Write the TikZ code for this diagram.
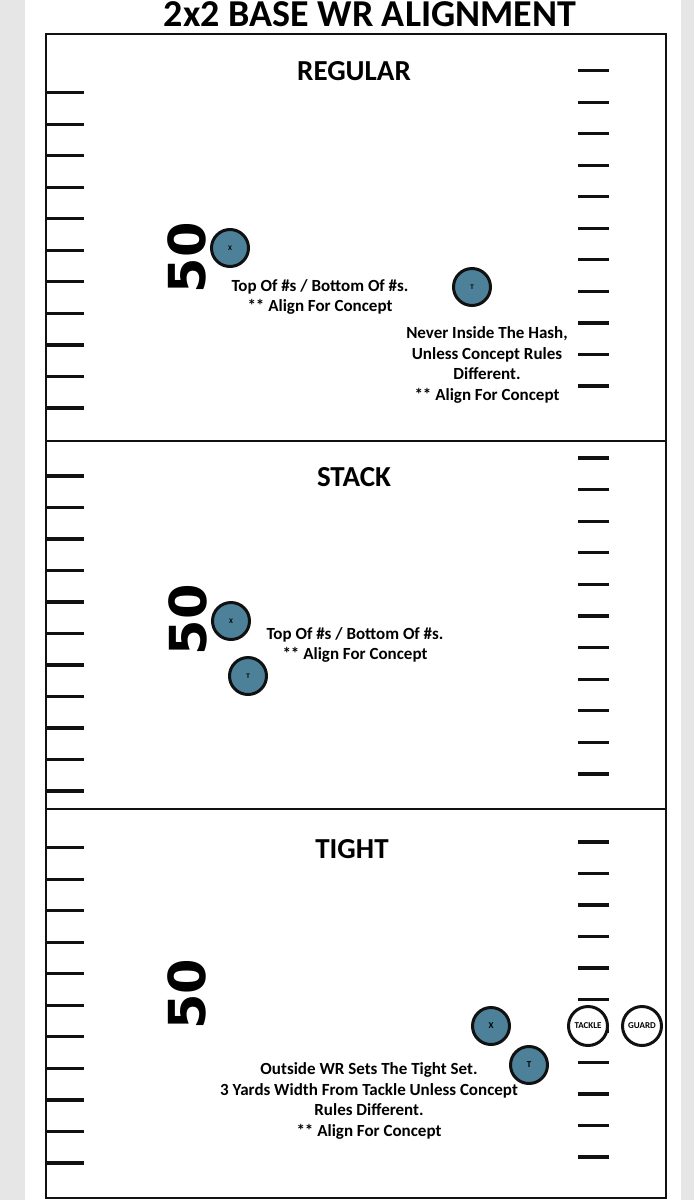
\documentclass[tikz,border=0pt]{standalone}
\usepackage{fontspec}
\setmainfont{Carlito}
\newfontfamily\numfont{DejaVu Sans}
\usepackage{tikz}
\usetikzlibrary{calc}
\definecolor{wr}{HTML}{4C8199}
\definecolor{pg}{HTML}{E6E6E6}
\definecolor{ink}{HTML}{111111}

\begin{document}
\begin{tikzpicture}[x=1pt,y=-1pt,  % 1 unit = 1 px of the sheet, y runs down
  hash/.style={ink,line width=3.2pt},
  wrdot/.style={circle,draw=ink,line width=3pt,fill=wr,minimum size=37pt,inner sep=0pt,font=\fontsize{7}{7}\selectfont\bfseries},
  oline/.style={wrdot,fill=white,minimum size=39pt,font=\fontsize{9}{9}\selectfont\bfseries},
  head/.style={inner sep=0pt,font=\fontsize{29}{29}\selectfont\bfseries},
  note/.style={align=center,inner sep=0pt,font=\fontsize{17}{20.7}\selectfont\bfseries},
  yardno/.style={rotate=90,inner sep=0pt,font=\fontsize{51}{51}\selectfont\numfont\bfseries}]
  \useasboundingbox (0,0) rectangle (694,1200);
  \fill[pg] (0,0) rectangle (694,1200);
  \fill[white] (25,0) rectangle (681,1200);
  \node[inner sep=0pt,font=\fontsize{38}{38}\selectfont\bfseries] (title) at (370,14.5) {2x2 BASE WR ALIGNMENT};
  % ---- field frame
  \draw[ink,line width=2pt] (46,34) rectangle (666,1198);
  \draw[ink,line width=2pt] (46,441) -- (666,441);
  \draw[ink,line width=2pt] (46,809) -- (666,809);
  % ---- (1) regular
  \foreach \k in {0,...,10}{
    \draw[hash] (46,{92.7+31.53*\k}) -- ++(38,0);
    \draw[hash] (578,{70.7+31.53*\k}) -- ++(31,0);
  }
  \node[head] (regular) at (354,71) {REGULAR};
  \node[yardno] (yd1) at (187,258) {50};
  \node[wrdot] (x1) at (230,248) {X};
  \node[wrdot] (t1) at (472,287) {T};
  \node[note] (n1) at (320,297) {Top Of \#s / Bottom Of \#s.\\** Align For Concept};
  \node[note] (n2) at (487,365) {Never Inside The Hash,\\Unless Concept Rules\\Different.\\** Align For Concept};
  % ---- (2) stack
  \foreach \k in {0,...,10}{
    \draw[hash] (46,{476+31.5*\k}) -- ++(38,0);
    \draw[hash] (578,{458+31.6*\k}) -- ++(31,0);
  }
  \node[head] (stack) at (354,477) {STACK};
  \node[yardno] (yd2) at (188,620) {50};
  \node[wrdot] (x2) at (231,621) {X};
  \node[wrdot] (t2) at (248,676) {T};
  \node[note] (n3) at (355,645) {Top Of \#s / Bottom Of \#s.\\** Align For Concept};
  % ---- (3) tight
  \foreach \k in {0,...,10}{
    \draw[hash] (46,{847.7+31.53*\k}) -- ++(38,0);
    \draw[hash] (578,{842+31.5*\k}) -- ++(31,0);
  }
  \node[head] (tight) at (352,849) {TIGHT};
  \node[yardno] (yd3) at (187,994) {50};
  \node[oline] (tackle) at (588,1026) {TACKLE};
  \node[oline] (guard) at (642,1026) {GUARD};
  \node[wrdot,font=\fontsize{9}{9}\selectfont\bfseries] (x3) at (491,1026) {X};
  \node[wrdot,font=\fontsize{9}{9}\selectfont\bfseries] (t3) at (529,1065) {T};
  \node[note] (n4) at (369,1101) {Outside WR Sets The Tight Set.\\3 Yards Width From Tackle Unless Concept\\Rules Different.\\** Align For Concept};
\end{tikzpicture}
\end{document}
